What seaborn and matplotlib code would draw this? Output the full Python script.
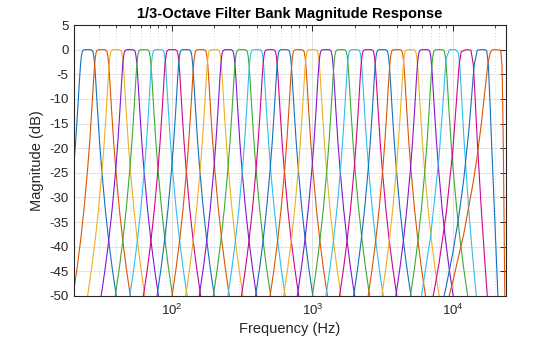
import numpy as np
import pandas as pd
import matplotlib
matplotlib.use("Agg")
import matplotlib.pyplot as plt
import seaborn as sns
from matplotlib.ticker import LogLocator, NullFormatter

# ---------------- data ----------------
# nominal 1/3-octave band centres drawn with the common band shape
band_centers_hz = [25, 31.5, 40, 50, 63, 80, 100, 125, 160, 200, 250, 315, 400,
                   500, 630, 800, 1000, 1250, 1600, 2000, 2500, 3150, 4000,
                   5000, 6300, 8000]

# common band shape: offset from centre (in 1/3-octave bands) vs level (dB)
shape_offset_bands = [0, 0.25, 0.35, 0.4, 0.45, 0.5, 0.55, 0.6, 0.7, 0.85,
                      1.0, 1.25, 1.5, 1.75, 2.0, 2.2]
shape_db = [0, -0.02, -0.24, -0.67, -1.55, -3.0, -5.0, -7.3, -12.1, -18.7,
            -24.3, -32.2, -38.8, -44.4, -49.3, -52.9]

# the top four bands are compressed by the Nyquist limit, read point by point
band_10k_hz = [6000, 7000, 8000, 8500, 8909, 9000, 9500, 10000, 10500, 11000,
               11225, 11500, 12000, 13000, 14000, 15000]
band_10k_db = [-49.9, -37.4, -21.7, -11.5, -3.0, -1.8, 0.0, 0.0, 0.0, -0.7,
               -3.0, -8.0, -17.6, -32.3, -43.2, -52.3]

band_12k5_hz = [7000, 7500, 8000, 9000, 10000, 11000, 11136, 11500, 12500,
                13500, 14031, 14250, 14500, 15000, 16000, 17000, 18000]
band_12k5_db = [-52.4, -47.9, -43.3, -33.2, -20.8, -4.9, -3.0, -0.4, 0.0,
                -0.1, -3.0, -6.3, -10.6, -18.9, -32.4, -43.5, -53.3]

band_16k_hz = [8500, 9000, 10000, 11000, 12000, 13000, 13500, 14000, 14254,
               15000, 16000, 17000, 17500, 17959, 18000, 18500, 19000, 20000,
               21000, 21500]
band_16k_db = [-51.2, -48.0, -41.4, -34.3, -26.3, -16.8, -11.3, -5.5, -3.0,
               -0.1, 0.0, 0.0, -0.3, -3.0, -3.5, -11.4, -19.8, -35.0, -49.8,
               -57.8]

band_20k_hz = [9000, 9500, 10000, 12000, 14000, 15000, 16000, 17000, 17818,
               18000, 18500, 19000, 20000, 22000, 22449, 22600, 22800, 23000,
               23500, 23600]
band_20k_db = [-52.2, -49.7, -47.2, -37.4, -27.0, -21.4, -15.1, -8.2, -3.0,
               -2.2, -0.7, -0.1, 0.0, -0.1, -3.0, -6.6, -13.3, -21.2, -48.0,
               -56.1]

line_colors = ["#1171BE", "#DD5400", "#EDB120", "#8516D1", "#3BAA32",
               "#2FBEEF", "#D1048B"]

x_limits = (20, 24000)
y_limits = (-50, 5)
y_ticks = list(range(-50, 6, 5))

# ---------------- build long-form table ----------------
offsets = np.array(shape_offset_bands)
levels = np.array(shape_db)
full_off = np.concatenate([-offsets[:0:-1], offsets])
full_db = np.concatenate([levels[:0:-1], levels])

rows = []
band_id = 0
for fc in band_centers_hz:
    f = fc * 2.0 ** (full_off / 3.0)
    for fi, di in zip(f, full_db):
        rows.append((band_id, fi, di))
    band_id += 1
for fl, dl in [(band_10k_hz, band_10k_db), (band_12k5_hz, band_12k5_db),
               (band_16k_hz, band_16k_db), (band_20k_hz, band_20k_db)]:
    for fi, di in zip(fl, dl):
        rows.append((band_id, fi, di))
    band_id += 1

df = pd.DataFrame(rows, columns=["band", "freq", "db"])
n_bands = band_id
palette = [line_colors[i % len(line_colors)] for i in range(n_bands)]

# ---------------- plot ----------------
sns.set_style("white")
plt.rcParams["font.family"] = ["Liberation Sans", "DejaVu Sans"]
plt.rcParams["axes.unicode_minus"] = False
plt.rcParams["mathtext.fontset"] = "custom"
plt.rcParams["mathtext.rm"] = "Liberation Sans"
plt.rcParams["mathtext.it"] = "Liberation Sans"

fig = plt.figure(figsize=(5.6, 3.37), dpi=100)
ax = fig.add_axes([74 / 560, 1 - 296 / 337, (506 - 74) / 560, (296 - 25) / 337])

sns.lineplot(data=df, x="freq", y="db", hue="band", palette=palette,
             estimator=None, sort=False, legend=False, linewidth=0.8, ax=ax)

ax.set_xscale("log")
ax.set_xlim(*x_limits)
ax.set_ylim(*y_limits)
ax.set_yticks(y_ticks)
ax.xaxis.set_major_locator(LogLocator(base=10, numticks=10))
ax.xaxis.set_minor_locator(LogLocator(base=10, subs=np.arange(2, 10), numticks=20))
ax.xaxis.set_minor_formatter(NullFormatter())

ax.set_axisbelow(True)
ax.grid(True, which="major", color="#e3e3e3", linewidth=0.7, linestyle="-")
ax.grid(True, which="minor", axis="x", color="#d0d0d0", linewidth=0.6,
        linestyle=(0, (1, 2.5)))

for s in ax.spines.values():
    s.set_visible(True)
    s.set_color("#262626")
    s.set_linewidth(0.8)

ax.tick_params(which="both", direction="in", top=True, right=True,
               colors="#262626", labelsize=9.5)
ax.tick_params(which="major", length=4, width=0.7, pad=4)
ax.tick_params(which="minor", length=2.2, width=0.6)
ax.tick_params(axis="x", which="major", pad=5)

ax.set_xlabel("Frequency (Hz)", fontsize=10.5, color="#262626", labelpad=3)
ax.set_ylabel("Magnitude (dB)", fontsize=10.5, color="#262626", labelpad=4)
ax.set_title("1/3-Octave Filter Bank Magnitude Response", fontsize=10.5,
             fontweight="bold", color="#000000", pad=5)

fig.savefig("out.png", dpi=100)
